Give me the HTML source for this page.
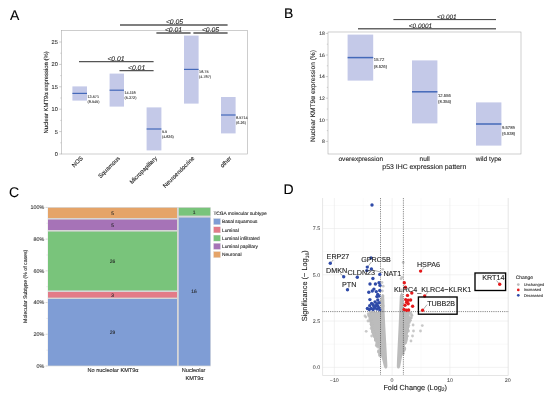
<!DOCTYPE html>
<html lang="en"><head><meta charset="utf-8"><title>Figure</title>
<style>html,body{margin:0;padding:0;background:#fff;overflow:hidden;}svg{display:block;}text{font-family:"Liberation Sans",Arial,Helvetica,sans-serif;text-rendering:geometricPrecision;}</style>
</head><body>
<svg width="550" height="396" viewBox="0 0 550 396">
<rect width="550" height="396" fill="#ffffff"/>
<text x="9.9" y="19.6" font-size="14" text-anchor="start" fill="#000" stroke="#000" stroke-width="0.1" >A</text>
<text x="284" y="18.2" font-size="14" text-anchor="start" fill="#000" stroke="#000" stroke-width="0.1" >B</text>
<text x="9" y="197.2" font-size="14" text-anchor="start" fill="#000" stroke="#000" stroke-width="0.1" >C</text>
<text x="283.6" y="194" font-size="14" text-anchor="start" fill="#000" stroke="#000" stroke-width="0.1" >D</text>
<rect x="61.4" y="30.4" width="186.2" height="123.6" fill="#fff" stroke="#adadad" stroke-width="0.6"/>
<line x1="59.199999999999996" y1="154.0" x2="61.4" y2="154.0" stroke="#9a9a9a" stroke-width="0.5"/>
<text x="57.8" y="156.0" font-size="5.6" text-anchor="end" fill="#333" stroke="#333" stroke-width="0.1" >0</text>
<line x1="59.199999999999996" y1="131.6" x2="61.4" y2="131.6" stroke="#9a9a9a" stroke-width="0.5"/>
<text x="57.8" y="133.6" font-size="5.6" text-anchor="end" fill="#333" stroke="#333" stroke-width="0.1" >5</text>
<line x1="59.199999999999996" y1="109.19999999999999" x2="61.4" y2="109.19999999999999" stroke="#9a9a9a" stroke-width="0.5"/>
<text x="57.8" y="111.19999999999999" font-size="5.6" text-anchor="end" fill="#333" stroke="#333" stroke-width="0.1" >10</text>
<line x1="59.199999999999996" y1="86.8" x2="61.4" y2="86.8" stroke="#9a9a9a" stroke-width="0.5"/>
<text x="57.8" y="88.8" font-size="5.6" text-anchor="end" fill="#333" stroke="#333" stroke-width="0.1" >15</text>
<line x1="59.199999999999996" y1="64.39999999999999" x2="61.4" y2="64.39999999999999" stroke="#9a9a9a" stroke-width="0.5"/>
<text x="57.8" y="66.39999999999999" font-size="5.6" text-anchor="end" fill="#333" stroke="#333" stroke-width="0.1" >20</text>
<line x1="59.199999999999996" y1="41.999999999999986" x2="61.4" y2="41.999999999999986" stroke="#9a9a9a" stroke-width="0.5"/>
<text x="57.8" y="43.999999999999986" font-size="5.6" text-anchor="end" fill="#333" stroke="#333" stroke-width="0.1" >25</text>
<line x1="60.199999999999996" y1="142.8" x2="61.4" y2="142.8" stroke="#9a9a9a" stroke-width="0.4"/>
<line x1="60.199999999999996" y1="120.4" x2="61.4" y2="120.4" stroke="#9a9a9a" stroke-width="0.4"/>
<line x1="60.199999999999996" y1="98.0" x2="61.4" y2="98.0" stroke="#9a9a9a" stroke-width="0.4"/>
<line x1="60.199999999999996" y1="75.6" x2="61.4" y2="75.6" stroke="#9a9a9a" stroke-width="0.4"/>
<line x1="60.199999999999996" y1="53.19999999999999" x2="61.4" y2="53.19999999999999" stroke="#9a9a9a" stroke-width="0.4"/>
<text transform="translate(48,92.4) rotate(-90)" font-size="5.9" text-anchor="middle" fill="#222" stroke="#222" stroke-width="0.1">Nuclear KMT9α expression (%)</text>
<rect x="72.4" y="86.4" width="14.599999999999994" height="14.199999999999989" fill="#c4c9e8"/>
<line x1="72.4" y1="93.4" x2="87" y2="93.4" stroke="#4469b9" stroke-width="1.2"/>
<text x="87.5" y="97.75" font-size="3.75" text-anchor="start" fill="#333" stroke="#333" stroke-width="0.08" >13.571</text>
<text x="87.5" y="102.85" font-size="3.75" text-anchor="start" fill="#333" stroke="#333" stroke-width="0.08" >(8.545)</text>
<text transform="translate(83.3,158.6) rotate(-45)" font-size="5.9" text-anchor="end" fill="#222" stroke="#222" stroke-width="0.1">NOS</text>
<rect x="109.6" y="73.6" width="14.400000000000006" height="33.0" fill="#c4c9e8"/>
<line x1="109.6" y1="90.2" x2="124" y2="90.2" stroke="#4469b9" stroke-width="1.2"/>
<text x="124.5" y="93.75" font-size="3.75" text-anchor="start" fill="#333" stroke="#333" stroke-width="0.08" >14.118</text>
<text x="124.5" y="98.85" font-size="3.75" text-anchor="start" fill="#333" stroke="#333" stroke-width="0.08" >(5.372)</text>
<text transform="translate(120.39999999999999,158.6) rotate(-45)" font-size="5.9" text-anchor="end" fill="#222" stroke="#222" stroke-width="0.1">Squamous</text>
<rect x="146.6" y="107.4" width="14.800000000000011" height="43.0" fill="#c4c9e8"/>
<line x1="146.6" y1="129" x2="161.4" y2="129" stroke="#4469b9" stroke-width="1.2"/>
<text x="161.9" y="132.75" font-size="3.75" text-anchor="start" fill="#333" stroke="#333" stroke-width="0.08" >5.5</text>
<text x="161.9" y="137.85" font-size="3.75" text-anchor="start" fill="#333" stroke="#333" stroke-width="0.08" >(4.836)</text>
<text transform="translate(157.6,158.6) rotate(-45)" font-size="5.9" text-anchor="end" fill="#222" stroke="#222" stroke-width="0.1">Micropapillary</text>
<rect x="184" y="35.6" width="14.599999999999994" height="68.0" fill="#c4c9e8"/>
<line x1="184" y1="69.4" x2="198.6" y2="69.4" stroke="#4469b9" stroke-width="1.2"/>
<text x="199.1" y="73.35" font-size="3.75" text-anchor="start" fill="#333" stroke="#333" stroke-width="0.08" >18.75</text>
<text x="199.1" y="78.44999999999999" font-size="3.75" text-anchor="start" fill="#333" stroke="#333" stroke-width="0.08" >(4.787)</text>
<text transform="translate(194.9,158.6) rotate(-45)" font-size="5.9" text-anchor="end" fill="#222" stroke="#222" stroke-width="0.1">Neuroendocrine</text>
<rect x="221" y="97" width="14.599999999999994" height="36.400000000000006" fill="#c4c9e8"/>
<line x1="221" y1="115" x2="235.6" y2="115" stroke="#4469b9" stroke-width="1.2"/>
<text x="236.1" y="118.94999999999999" font-size="3.75" text-anchor="start" fill="#333" stroke="#333" stroke-width="0.08" >8.5714</text>
<text x="236.1" y="124.04999999999998" font-size="3.75" text-anchor="start" fill="#333" stroke="#333" stroke-width="0.08" >(6.26)</text>
<text transform="translate(231.9,158.6) rotate(-45)" font-size="5.9" text-anchor="end" fill="#222" stroke="#222" stroke-width="0.1">other</text>
<line x1="120" y1="25" x2="227.6" y2="25" stroke="#555" stroke-width="1.4"/>
<text x="174.5" y="23.6" font-size="6.8" text-anchor="middle" font-style="italic" fill="#222" stroke="#222" stroke-width="0.1">&lt;0.05</text>
<line x1="156.4" y1="33" x2="190.6" y2="33" stroke="#555" stroke-width="1.4"/>
<text x="173.5" y="32.1" font-size="6.8" text-anchor="middle" font-style="italic" fill="#222" stroke="#222" stroke-width="0.1">&lt;0.01</text>
<line x1="193.4" y1="33" x2="227.6" y2="33" stroke="#555" stroke-width="1.4"/>
<text x="210.5" y="32.1" font-size="6.8" text-anchor="middle" font-style="italic" fill="#222" stroke="#222" stroke-width="0.1">&lt;0.05</text>
<line x1="79" y1="61.6" x2="153.6" y2="61.6" stroke="#555" stroke-width="1.4"/>
<text x="116" y="60.7" font-size="6.8" text-anchor="middle" font-style="italic" fill="#222" stroke="#222" stroke-width="0.1">&lt;0.01</text>
<line x1="119.5" y1="70.6" x2="153.6" y2="70.6" stroke="#555" stroke-width="1.4"/>
<text x="136.6" y="69.69999999999999" font-size="6.8" text-anchor="middle" font-style="italic" fill="#222" stroke="#222" stroke-width="0.1">&lt;0.01</text>
<rect x="328" y="32" width="193" height="122" fill="#fff" stroke="#adadad" stroke-width="0.6"/>
<line x1="325.8" y1="141.4" x2="328" y2="141.4" stroke="#9a9a9a" stroke-width="0.5"/>
<text x="324.8" y="143.20000000000002" font-size="5.0" text-anchor="end" fill="#333" stroke="#333" stroke-width="0.1" >8</text>
<line x1="325.8" y1="119.80000000000001" x2="328" y2="119.80000000000001" stroke="#9a9a9a" stroke-width="0.5"/>
<text x="324.8" y="121.60000000000001" font-size="5.0" text-anchor="end" fill="#333" stroke="#333" stroke-width="0.1" >10</text>
<line x1="325.8" y1="98.2" x2="328" y2="98.2" stroke="#9a9a9a" stroke-width="0.5"/>
<text x="324.8" y="100.0" font-size="5.0" text-anchor="end" fill="#333" stroke="#333" stroke-width="0.1" >12</text>
<line x1="325.8" y1="76.6" x2="328" y2="76.6" stroke="#9a9a9a" stroke-width="0.5"/>
<text x="324.8" y="78.39999999999999" font-size="5.0" text-anchor="end" fill="#333" stroke="#333" stroke-width="0.1" >14</text>
<line x1="325.8" y1="55.0" x2="328" y2="55.0" stroke="#9a9a9a" stroke-width="0.5"/>
<text x="324.8" y="56.8" font-size="5.0" text-anchor="end" fill="#333" stroke="#333" stroke-width="0.1" >16</text>
<line x1="325.8" y1="33.400000000000006" x2="328" y2="33.400000000000006" stroke="#9a9a9a" stroke-width="0.5"/>
<text x="324.8" y="35.2" font-size="5.0" text-anchor="end" fill="#333" stroke="#333" stroke-width="0.1" >18</text>
<line x1="326.8" y1="130.6" x2="328" y2="130.6" stroke="#9a9a9a" stroke-width="0.4"/>
<line x1="326.8" y1="109.0" x2="328" y2="109.0" stroke="#9a9a9a" stroke-width="0.4"/>
<line x1="326.8" y1="87.4" x2="328" y2="87.4" stroke="#9a9a9a" stroke-width="0.4"/>
<line x1="326.8" y1="65.8" x2="328" y2="65.8" stroke="#9a9a9a" stroke-width="0.4"/>
<line x1="326.8" y1="44.2" x2="328" y2="44.2" stroke="#9a9a9a" stroke-width="0.4"/>
<text transform="translate(314.8,96) rotate(-90)" font-size="6.6" text-anchor="middle" fill="#222" stroke="#222" stroke-width="0.1">Nuclear KMT9α expression (%)</text>
<rect x="347.6" y="34.6" width="25.599999999999966" height="45.99999999999999" fill="#c4c9e8"/>
<line x1="347.6" y1="57.6" x2="373.2" y2="57.6" stroke="#4469b9" stroke-width="1.5"/>
<text x="373.8" y="61.1" font-size="4.2" text-anchor="start" fill="#333" stroke="#333" stroke-width="0.08" >15.72</text>
<text x="373.8" y="67.5" font-size="4.2" text-anchor="start" fill="#333" stroke="#333" stroke-width="0.08" >(8.526)</text>
<text x="360.8" y="161.3" font-size="6.6" text-anchor="middle" fill="#222" stroke="#222" stroke-width="0.1" >overexpression</text>
<rect x="412" y="60.4" width="25.399999999999977" height="63.00000000000001" fill="#c4c9e8"/>
<line x1="412" y1="91.8" x2="437.4" y2="91.8" stroke="#4469b9" stroke-width="1.5"/>
<text x="438.0" y="96.5" font-size="4.2" text-anchor="start" fill="#333" stroke="#333" stroke-width="0.08" >12.556</text>
<text x="438.0" y="102.9" font-size="4.2" text-anchor="start" fill="#333" stroke="#333" stroke-width="0.08" >(8.354)</text>
<text x="424.7" y="161.3" font-size="6.6" text-anchor="middle" fill="#222" stroke="#222" stroke-width="0.1" >null</text>
<rect x="476" y="102.4" width="25.399999999999977" height="43.19999999999999" fill="#c4c9e8"/>
<line x1="476" y1="124" x2="501.4" y2="124" stroke="#4469b9" stroke-width="1.5"/>
<text x="502.0" y="128.5" font-size="4.2" text-anchor="start" fill="#333" stroke="#333" stroke-width="0.08" >9.5789</text>
<text x="502.0" y="134.8" font-size="4.2" text-anchor="start" fill="#333" stroke="#333" stroke-width="0.08" >(6.538)</text>
<text x="488.7" y="161.3" font-size="6.6" text-anchor="middle" fill="#222" stroke="#222" stroke-width="0.1" >wild type</text>
<text x="424.3" y="169.2" font-size="6.9" text-anchor="middle" fill="#222" stroke="#222" stroke-width="0.1" >p53 IHC expression pattern</text>
<line x1="393.4" y1="19.6" x2="496" y2="19.6" stroke="#222" stroke-width="0.9"/>
<text x="446.8" y="19.1" font-size="6.4" text-anchor="middle" font-style="italic" fill="#222" stroke="#222" stroke-width="0.1">&lt;0.001</text>
<line x1="358" y1="28.8" x2="496" y2="28.8" stroke="#666" stroke-width="1.4"/>
<text x="420.5" y="28.2" font-size="6.4" text-anchor="middle" font-style="italic" fill="#222" stroke="#222" stroke-width="0.1">&lt;0.0001</text>
<rect x="47.7" y="207.1" width="163.0" height="159.20000000000002" fill="#d6d6d6"/>
<rect x="48" y="299" width="129" height="66.60000000000002" fill="#7f9dd5"/>
<text x="112.5" y="333.75" font-size="4.9" text-anchor="middle" fill="#222" stroke="#222" stroke-width="0.08" >29</text>
<rect x="48" y="292" width="129" height="5.600000000000023" fill="#e37b88"/>
<text x="112.5" y="296.75" font-size="4.9" text-anchor="middle" fill="#222" stroke="#222" stroke-width="0.08" >3</text>
<rect x="48" y="231.6" width="129" height="58.79999999999998" fill="#79c47b"/>
<text x="112.5" y="263.0" font-size="4.9" text-anchor="middle" fill="#222" stroke="#222" stroke-width="0.08" >26</text>
<rect x="48" y="219.6" width="129" height="10.400000000000006" fill="#a673b7"/>
<text x="112.5" y="226.75" font-size="4.9" text-anchor="middle" fill="#222" stroke="#222" stroke-width="0.08" >5</text>
<rect x="48" y="207.8" width="129" height="10.199999999999989" fill="#e5a469"/>
<text x="112.5" y="214.75" font-size="4.9" text-anchor="middle" fill="#222" stroke="#222" stroke-width="0.08" >5</text>
<rect x="178.8" y="217.6" width="31.5" height="148.00000000000003" fill="#7f9dd5"/>
<text x="194" y="293.25" font-size="4.9" text-anchor="middle" fill="#222" stroke="#222" stroke-width="0.08" >16</text>
<rect x="178.8" y="207.8" width="31.5" height="7.799999999999983" fill="#79c47b"/>
<text x="194" y="214.15" font-size="4.9" text-anchor="middle" fill="#222" stroke="#222" stroke-width="0.08" >1</text>
<line x1="45.6" y1="366.0" x2="47.6" y2="366.0" stroke="#aaa" stroke-width="0.5"/>
<text x="44.4" y="367.9" font-size="5.4" text-anchor="end" fill="#333" stroke="#333" stroke-width="0.1" >0%</text>
<line x1="45.6" y1="334.28" x2="47.6" y2="334.28" stroke="#aaa" stroke-width="0.5"/>
<text x="44.4" y="336.17999999999995" font-size="5.4" text-anchor="end" fill="#333" stroke="#333" stroke-width="0.1" >20%</text>
<line x1="45.6" y1="302.56" x2="47.6" y2="302.56" stroke="#aaa" stroke-width="0.5"/>
<text x="44.4" y="304.46" font-size="5.4" text-anchor="end" fill="#333" stroke="#333" stroke-width="0.1" >40%</text>
<line x1="45.6" y1="270.84" x2="47.6" y2="270.84" stroke="#aaa" stroke-width="0.5"/>
<text x="44.4" y="272.73999999999995" font-size="5.4" text-anchor="end" fill="#333" stroke="#333" stroke-width="0.1" >60%</text>
<line x1="45.6" y1="239.12" x2="47.6" y2="239.12" stroke="#aaa" stroke-width="0.5"/>
<text x="44.4" y="241.02" font-size="5.4" text-anchor="end" fill="#333" stroke="#333" stroke-width="0.1" >80%</text>
<line x1="45.6" y1="207.4" x2="47.6" y2="207.4" stroke="#aaa" stroke-width="0.5"/>
<text x="44.4" y="209.3" font-size="5.4" text-anchor="end" fill="#333" stroke="#333" stroke-width="0.1" >100%</text>
<line x1="46.5" y1="350.14" x2="47.6" y2="350.14" stroke="#bbb" stroke-width="0.4"/>
<line x1="46.5" y1="318.42" x2="47.6" y2="318.42" stroke="#bbb" stroke-width="0.4"/>
<line x1="46.5" y1="286.7" x2="47.6" y2="286.7" stroke="#bbb" stroke-width="0.4"/>
<line x1="46.5" y1="254.98" x2="47.6" y2="254.98" stroke="#bbb" stroke-width="0.4"/>
<line x1="46.5" y1="223.26" x2="47.6" y2="223.26" stroke="#bbb" stroke-width="0.4"/>
<text transform="translate(27,286.3) rotate(-90)" font-size="5.2" text-anchor="middle" fill="#222" stroke="#222" stroke-width="0.1">Molecular Subtype (% of cases)</text>
<text x="113" y="372.4" font-size="5.6" text-anchor="middle" fill="#222" stroke="#222" stroke-width="0.1" >No nucleolar KMT9α</text>
<text x="193.6" y="372.4" font-size="5.6" text-anchor="middle" fill="#222" stroke="#222" stroke-width="0.1" >Nucleolar</text>
<text x="194.5" y="379.6" font-size="5.6" text-anchor="middle" fill="#222" stroke="#222" stroke-width="0.1" >KMT9α</text>
<text x="213.4" y="214.7" font-size="4.8" text-anchor="start" fill="#222" stroke="#222" stroke-width="0.1" >TCGA molecular subtype</text>
<rect x="213.6" y="218.6" width="6.8" height="6" fill="#7f9dd5" stroke="#d8d8d8" stroke-width="0.3"/>
<text x="222" y="223.29999999999998" font-size="4.8" text-anchor="start" fill="#222" stroke="#222" stroke-width="0.1" >Basal squamous</text>
<rect x="213.6" y="226.85" width="6.8" height="6" fill="#e37b88" stroke="#d8d8d8" stroke-width="0.3"/>
<text x="222" y="231.54999999999998" font-size="4.8" text-anchor="start" fill="#222" stroke="#222" stroke-width="0.1" >Luminal</text>
<rect x="213.6" y="235.1" width="6.8" height="6" fill="#79c47b" stroke="#d8d8d8" stroke-width="0.3"/>
<text x="222" y="239.79999999999998" font-size="4.8" text-anchor="start" fill="#222" stroke="#222" stroke-width="0.1" >Luminal infiltrated</text>
<rect x="213.6" y="243.35" width="6.8" height="6" fill="#a673b7" stroke="#d8d8d8" stroke-width="0.3"/>
<text x="222" y="248.04999999999998" font-size="4.8" text-anchor="start" fill="#222" stroke="#222" stroke-width="0.1" >Luminal papillary</text>
<rect x="213.6" y="251.6" width="6.8" height="6" fill="#e5a469" stroke="#d8d8d8" stroke-width="0.3"/>
<text x="222" y="256.3" font-size="4.8" text-anchor="start" fill="#222" stroke="#222" stroke-width="0.1" >Neuronal</text>
<rect x="322.6" y="198" width="185.59999999999997" height="177.5" fill="#fff"/>
<line x1="363.20000000000005" y1="198" x2="363.20000000000005" y2="375.5" stroke="#f2f2f2" stroke-width="0.4"/>
<line x1="421.0" y1="198" x2="421.0" y2="375.5" stroke="#f2f2f2" stroke-width="0.4"/>
<line x1="478.8" y1="198" x2="478.8" y2="375.5" stroke="#f2f2f2" stroke-width="0.4"/>
<line x1="322.6" y1="344.175" x2="508.2" y2="344.175" stroke="#f2f2f2" stroke-width="0.4"/>
<line x1="322.6" y1="297.925" x2="508.2" y2="297.925" stroke="#f2f2f2" stroke-width="0.4"/>
<line x1="322.6" y1="251.675" x2="508.2" y2="251.675" stroke="#f2f2f2" stroke-width="0.4"/>
<line x1="322.6" y1="205.425" x2="508.2" y2="205.425" stroke="#f2f2f2" stroke-width="0.4"/>
<line x1="334.3" y1="198" x2="334.3" y2="375.5" stroke="#e8e8e8" stroke-width="0.6"/>
<text x="334.3" y="381.9" font-size="5.3" text-anchor="middle" fill="#4d4d4d" stroke="#4d4d4d" stroke-width="0.06" >−10</text>
<line x1="392.1" y1="198" x2="392.1" y2="375.5" stroke="#e8e8e8" stroke-width="0.6"/>
<text x="392.1" y="381.9" font-size="5.3" text-anchor="middle" fill="#4d4d4d" stroke="#4d4d4d" stroke-width="0.06" >0</text>
<line x1="449.90000000000003" y1="198" x2="449.90000000000003" y2="375.5" stroke="#e8e8e8" stroke-width="0.6"/>
<text x="449.90000000000003" y="381.9" font-size="5.3" text-anchor="middle" fill="#4d4d4d" stroke="#4d4d4d" stroke-width="0.06" >10</text>
<text x="507.70000000000005" y="381.9" font-size="5.3" text-anchor="middle" fill="#4d4d4d" stroke="#4d4d4d" stroke-width="0.06" >20</text>
<line x1="322.6" y1="367.3" x2="508.2" y2="367.3" stroke="#e8e8e8" stroke-width="0.6"/>
<text x="320.2" y="369.2" font-size="5.3" text-anchor="end" fill="#4d4d4d" stroke="#4d4d4d" stroke-width="0.06" >0.0</text>
<line x1="322.6" y1="321.05" x2="508.2" y2="321.05" stroke="#e8e8e8" stroke-width="0.6"/>
<text x="320.2" y="322.95" font-size="5.3" text-anchor="end" fill="#4d4d4d" stroke="#4d4d4d" stroke-width="0.06" >2.5</text>
<line x1="322.6" y1="274.8" x2="508.2" y2="274.8" stroke="#e8e8e8" stroke-width="0.6"/>
<text x="320.2" y="276.7" font-size="5.3" text-anchor="end" fill="#4d4d4d" stroke="#4d4d4d" stroke-width="0.06" >5.0</text>
<line x1="322.6" y1="228.55" x2="508.2" y2="228.55" stroke="#e8e8e8" stroke-width="0.6"/>
<text x="320.2" y="230.45000000000002" font-size="5.3" text-anchor="end" fill="#4d4d4d" stroke="#4d4d4d" stroke-width="0.06" >7.5</text>
<path d="M322.6,198 L322.6,375.5 L508.2,375.5 L508.2,198" fill="none" stroke="#dedede" stroke-width="0.8"/>
<path d="M385.6,368.6 C384.8,368.6 384.2,367.5 383.8,366 C382,358 379.8,352 378,347 C375.5,341 373,337 371.6,333 C370.4,328 369.6,320 369.5,311.7 L380.6,311.7 L380.8,298 L382,294 L384,295 L384.4,300 L384.6,311.7 C385.4,330 386.8,350 387.4,366 C387.4,367.8 386.6,368.6 385.6,368.6 Z" fill="#bcbcbc"/>
<path d="M398.5,368.6 C399.4,368.6 400,367.5 400.3,366 C401.6,358 403.4,350 405.2,344 C407,338 408.6,332 409.2,326 C409.6,320 409.6,316 409.6,311.7 L403.4,311.7 L403.2,297 L401.6,292 L399.8,296 L399.2,311.7 C398.6,330 397.4,350 396.8,366 C396.8,367.8 397.6,368.6 398.5,368.6 Z" fill="#bcbcbc"/>
<circle cx="372.4" cy="331.9" r="1.4" fill="#bcbcbc" fill-opacity="0.8"/>
<circle cx="373.6" cy="332.5" r="1.4" fill="#bcbcbc" fill-opacity="0.8"/>
<circle cx="374.3" cy="334.3" r="1.4" fill="#bcbcbc" fill-opacity="0.8"/>
<circle cx="374.5" cy="334.5" r="1.4" fill="#bcbcbc" fill-opacity="0.8"/>
<circle cx="376.0" cy="339.7" r="1.4" fill="#bcbcbc" fill-opacity="0.8"/>
<circle cx="372.2" cy="325.3" r="1.4" fill="#bcbcbc" fill-opacity="0.8"/>
<circle cx="369.8" cy="316.0" r="1.4" fill="#bcbcbc" fill-opacity="0.8"/>
<circle cx="368.2" cy="313.8" r="1.4" fill="#bcbcbc" fill-opacity="0.8"/>
<circle cx="379.8" cy="355.2" r="1.4" fill="#bcbcbc" fill-opacity="0.8"/>
<circle cx="375.7" cy="339.1" r="1.4" fill="#bcbcbc" fill-opacity="0.8"/>
<circle cx="369.7" cy="318.9" r="1.4" fill="#bcbcbc" fill-opacity="0.8"/>
<circle cx="370.0" cy="314.6" r="1.4" fill="#bcbcbc" fill-opacity="0.8"/>
<circle cx="371.4" cy="320.4" r="1.4" fill="#bcbcbc" fill-opacity="0.8"/>
<circle cx="374.0" cy="332.4" r="1.4" fill="#bcbcbc" fill-opacity="0.8"/>
<circle cx="373.4" cy="331.4" r="1.4" fill="#bcbcbc" fill-opacity="0.8"/>
<circle cx="375.5" cy="340.2" r="1.4" fill="#bcbcbc" fill-opacity="0.8"/>
<circle cx="374.2" cy="334.0" r="1.4" fill="#bcbcbc" fill-opacity="0.8"/>
<circle cx="371.4" cy="324.2" r="1.4" fill="#bcbcbc" fill-opacity="0.8"/>
<circle cx="379.9" cy="355.9" r="1.4" fill="#bcbcbc" fill-opacity="0.8"/>
<circle cx="376.9" cy="343.1" r="1.4" fill="#bcbcbc" fill-opacity="0.8"/>
<circle cx="372.6" cy="325.9" r="1.4" fill="#bcbcbc" fill-opacity="0.8"/>
<circle cx="369.3" cy="315.1" r="1.4" fill="#bcbcbc" fill-opacity="0.8"/>
<circle cx="376.8" cy="345.7" r="1.4" fill="#bcbcbc" fill-opacity="0.8"/>
<circle cx="372.4" cy="329.0" r="1.4" fill="#bcbcbc" fill-opacity="0.8"/>
<circle cx="379.9" cy="354.2" r="1.4" fill="#bcbcbc" fill-opacity="0.8"/>
<circle cx="371.6" cy="321.2" r="1.4" fill="#bcbcbc" fill-opacity="0.8"/>
<circle cx="378.3" cy="352.1" r="1.4" fill="#bcbcbc" fill-opacity="0.8"/>
<circle cx="373.1" cy="329.5" r="1.4" fill="#bcbcbc" fill-opacity="0.8"/>
<circle cx="368.8" cy="315.2" r="1.4" fill="#bcbcbc" fill-opacity="0.8"/>
<circle cx="371.0" cy="323.9" r="1.4" fill="#bcbcbc" fill-opacity="0.8"/>
<circle cx="368.9" cy="315.8" r="1.4" fill="#bcbcbc" fill-opacity="0.8"/>
<circle cx="376.3" cy="345.4" r="1.4" fill="#bcbcbc" fill-opacity="0.8"/>
<circle cx="370.7" cy="317.2" r="1.4" fill="#bcbcbc" fill-opacity="0.8"/>
<circle cx="369.6" cy="314.6" r="1.4" fill="#bcbcbc" fill-opacity="0.8"/>
<circle cx="377.7" cy="347.1" r="1.4" fill="#bcbcbc" fill-opacity="0.8"/>
<circle cx="373.1" cy="331.7" r="1.4" fill="#bcbcbc" fill-opacity="0.8"/>
<circle cx="371.4" cy="320.4" r="1.4" fill="#bcbcbc" fill-opacity="0.8"/>
<circle cx="375.9" cy="340.3" r="1.4" fill="#bcbcbc" fill-opacity="0.8"/>
<circle cx="370.0" cy="317.1" r="1.4" fill="#bcbcbc" fill-opacity="0.8"/>
<circle cx="371.9" cy="323.9" r="1.4" fill="#bcbcbc" fill-opacity="0.8"/>
<circle cx="380.0" cy="354.7" r="1.4" fill="#bcbcbc" fill-opacity="0.8"/>
<circle cx="378.7" cy="350.9" r="1.4" fill="#bcbcbc" fill-opacity="0.8"/>
<circle cx="370.0" cy="321.3" r="1.4" fill="#bcbcbc" fill-opacity="0.8"/>
<circle cx="375.4" cy="340.2" r="1.4" fill="#bcbcbc" fill-opacity="0.8"/>
<circle cx="369.7" cy="316.4" r="1.4" fill="#bcbcbc" fill-opacity="0.8"/>
<circle cx="372.1" cy="323.4" r="1.4" fill="#bcbcbc" fill-opacity="0.8"/>
<circle cx="377.5" cy="346.0" r="1.4" fill="#bcbcbc" fill-opacity="0.8"/>
<circle cx="369.4" cy="315.2" r="1.4" fill="#bcbcbc" fill-opacity="0.8"/>
<circle cx="369.7" cy="316.0" r="1.4" fill="#bcbcbc" fill-opacity="0.8"/>
<circle cx="375.5" cy="338.5" r="1.4" fill="#bcbcbc" fill-opacity="0.8"/>
<circle cx="371.1" cy="328.4" r="1.4" fill="#bcbcbc" fill-opacity="0.8"/>
<circle cx="373.9" cy="333.3" r="1.4" fill="#bcbcbc" fill-opacity="0.8"/>
<circle cx="375.1" cy="337.3" r="1.4" fill="#bcbcbc" fill-opacity="0.8"/>
<circle cx="370.6" cy="318.8" r="1.4" fill="#bcbcbc" fill-opacity="0.8"/>
<circle cx="379.2" cy="352.0" r="1.4" fill="#bcbcbc" fill-opacity="0.8"/>
<circle cx="370.7" cy="320.4" r="1.4" fill="#bcbcbc" fill-opacity="0.8"/>
<circle cx="376.9" cy="344.5" r="1.4" fill="#bcbcbc" fill-opacity="0.8"/>
<circle cx="379.7" cy="353.8" r="1.4" fill="#bcbcbc" fill-opacity="0.8"/>
<circle cx="378.6" cy="350.8" r="1.4" fill="#bcbcbc" fill-opacity="0.8"/>
<circle cx="369.9" cy="316.6" r="1.4" fill="#bcbcbc" fill-opacity="0.8"/>
<circle cx="369.1" cy="313.7" r="1.4" fill="#bcbcbc" fill-opacity="0.8"/>
<circle cx="376.8" cy="343.0" r="1.4" fill="#bcbcbc" fill-opacity="0.8"/>
<circle cx="371.5" cy="323.3" r="1.4" fill="#bcbcbc" fill-opacity="0.8"/>
<circle cx="371.3" cy="324.9" r="1.4" fill="#bcbcbc" fill-opacity="0.8"/>
<circle cx="371.2" cy="319.7" r="1.4" fill="#bcbcbc" fill-opacity="0.8"/>
<circle cx="371.4" cy="322.0" r="1.4" fill="#bcbcbc" fill-opacity="0.8"/>
<circle cx="374.7" cy="336.6" r="1.4" fill="#bcbcbc" fill-opacity="0.8"/>
<circle cx="371.2" cy="324.3" r="1.4" fill="#bcbcbc" fill-opacity="0.8"/>
<circle cx="379.4" cy="352.4" r="1.4" fill="#bcbcbc" fill-opacity="0.8"/>
<circle cx="372.1" cy="323.8" r="1.4" fill="#bcbcbc" fill-opacity="0.8"/>
<circle cx="407.5" cy="330.7" r="1.4" fill="#bcbcbc" fill-opacity="0.8"/>
<circle cx="407.7" cy="327.5" r="1.4" fill="#bcbcbc" fill-opacity="0.8"/>
<circle cx="406.5" cy="336.0" r="1.4" fill="#bcbcbc" fill-opacity="0.8"/>
<circle cx="403.9" cy="349.4" r="1.4" fill="#bcbcbc" fill-opacity="0.8"/>
<circle cx="403.2" cy="353.2" r="1.4" fill="#bcbcbc" fill-opacity="0.8"/>
<circle cx="406.9" cy="336.5" r="1.4" fill="#bcbcbc" fill-opacity="0.8"/>
<circle cx="409.2" cy="317.9" r="1.4" fill="#bcbcbc" fill-opacity="0.8"/>
<circle cx="403.5" cy="350.2" r="1.4" fill="#bcbcbc" fill-opacity="0.8"/>
<circle cx="405.2" cy="341.4" r="1.4" fill="#bcbcbc" fill-opacity="0.8"/>
<circle cx="405.6" cy="338.7" r="1.4" fill="#bcbcbc" fill-opacity="0.8"/>
<circle cx="406.8" cy="332.3" r="1.4" fill="#bcbcbc" fill-opacity="0.8"/>
<circle cx="403.0" cy="354.0" r="1.4" fill="#bcbcbc" fill-opacity="0.8"/>
<circle cx="411.5" cy="315.2" r="1.4" fill="#bcbcbc" fill-opacity="0.8"/>
<circle cx="403.7" cy="349.8" r="1.4" fill="#bcbcbc" fill-opacity="0.8"/>
<circle cx="405.1" cy="343.0" r="1.4" fill="#bcbcbc" fill-opacity="0.8"/>
<circle cx="404.1" cy="350.4" r="1.4" fill="#bcbcbc" fill-opacity="0.8"/>
<circle cx="408.4" cy="326.8" r="1.4" fill="#bcbcbc" fill-opacity="0.8"/>
<circle cx="404.7" cy="348.6" r="1.4" fill="#bcbcbc" fill-opacity="0.8"/>
<circle cx="407.6" cy="329.5" r="1.4" fill="#bcbcbc" fill-opacity="0.8"/>
<circle cx="407.5" cy="336.1" r="1.4" fill="#bcbcbc" fill-opacity="0.8"/>
<circle cx="406.4" cy="338.2" r="1.4" fill="#bcbcbc" fill-opacity="0.8"/>
<circle cx="406.4" cy="337.6" r="1.4" fill="#bcbcbc" fill-opacity="0.8"/>
<circle cx="412.0" cy="315.4" r="1.4" fill="#bcbcbc" fill-opacity="0.8"/>
<circle cx="404.8" cy="349.0" r="1.4" fill="#bcbcbc" fill-opacity="0.8"/>
<circle cx="405.7" cy="342.6" r="1.4" fill="#bcbcbc" fill-opacity="0.8"/>
<circle cx="406.8" cy="336.4" r="1.4" fill="#bcbcbc" fill-opacity="0.8"/>
<circle cx="407.2" cy="330.5" r="1.4" fill="#bcbcbc" fill-opacity="0.8"/>
<circle cx="404.9" cy="343.5" r="1.4" fill="#bcbcbc" fill-opacity="0.8"/>
<circle cx="411.0" cy="313.3" r="1.4" fill="#bcbcbc" fill-opacity="0.8"/>
<circle cx="409.2" cy="321.7" r="1.4" fill="#bcbcbc" fill-opacity="0.8"/>
<circle cx="406.0" cy="341.3" r="1.4" fill="#bcbcbc" fill-opacity="0.8"/>
<circle cx="403.4" cy="350.7" r="1.4" fill="#bcbcbc" fill-opacity="0.8"/>
<circle cx="409.2" cy="322.7" r="1.4" fill="#bcbcbc" fill-opacity="0.8"/>
<circle cx="405.3" cy="340.5" r="1.4" fill="#bcbcbc" fill-opacity="0.8"/>
<circle cx="409.8" cy="320.5" r="1.4" fill="#bcbcbc" fill-opacity="0.8"/>
<circle cx="406.7" cy="339.7" r="1.4" fill="#bcbcbc" fill-opacity="0.8"/>
<circle cx="407.6" cy="330.6" r="1.4" fill="#bcbcbc" fill-opacity="0.8"/>
<circle cx="405.7" cy="340.0" r="1.4" fill="#bcbcbc" fill-opacity="0.8"/>
<circle cx="410.6" cy="320.3" r="1.4" fill="#bcbcbc" fill-opacity="0.8"/>
<circle cx="403.7" cy="350.4" r="1.4" fill="#bcbcbc" fill-opacity="0.8"/>
<circle cx="404.2" cy="349.0" r="1.4" fill="#bcbcbc" fill-opacity="0.8"/>
<circle cx="408.7" cy="325.3" r="1.4" fill="#bcbcbc" fill-opacity="0.8"/>
<circle cx="411.4" cy="317.7" r="1.4" fill="#bcbcbc" fill-opacity="0.8"/>
<circle cx="404.0" cy="347.6" r="1.4" fill="#bcbcbc" fill-opacity="0.8"/>
<circle cx="405.5" cy="341.9" r="1.4" fill="#bcbcbc" fill-opacity="0.8"/>
<circle cx="409.1" cy="319.1" r="1.4" fill="#bcbcbc" fill-opacity="0.8"/>
<circle cx="407.0" cy="330.9" r="1.4" fill="#bcbcbc" fill-opacity="0.8"/>
<circle cx="407.8" cy="329.4" r="1.4" fill="#bcbcbc" fill-opacity="0.8"/>
<circle cx="406.3" cy="338.3" r="1.4" fill="#bcbcbc" fill-opacity="0.8"/>
<circle cx="404.0" cy="347.2" r="1.4" fill="#bcbcbc" fill-opacity="0.8"/>
<circle cx="403.0" cy="353.2" r="1.4" fill="#bcbcbc" fill-opacity="0.8"/>
<circle cx="409.9" cy="313.3" r="1.4" fill="#bcbcbc" fill-opacity="0.8"/>
<circle cx="404.5" cy="348.7" r="1.4" fill="#bcbcbc" fill-opacity="0.8"/>
<circle cx="406.4" cy="336.0" r="1.4" fill="#bcbcbc" fill-opacity="0.8"/>
<circle cx="407.9" cy="325.0" r="1.4" fill="#bcbcbc" fill-opacity="0.8"/>
<circle cx="409.3" cy="317.7" r="1.4" fill="#bcbcbc" fill-opacity="0.8"/>
<circle cx="408.6" cy="331.1" r="1.4" fill="#bcbcbc" fill-opacity="0.8"/>
<circle cx="408.7" cy="322.0" r="1.4" fill="#bcbcbc" fill-opacity="0.8"/>
<circle cx="410.7" cy="317.9" r="1.4" fill="#bcbcbc" fill-opacity="0.8"/>
<circle cx="407.3" cy="330.8" r="1.4" fill="#bcbcbc" fill-opacity="0.8"/>
<circle cx="365.9" cy="317.1" r="1.4" fill="#bcbcbc" fill-opacity="0.8"/>
<circle cx="366.2" cy="331.3" r="1.4" fill="#bcbcbc" fill-opacity="0.8"/>
<circle cx="368.0" cy="321.0" r="1.4" fill="#bcbcbc" fill-opacity="0.8"/>
<circle cx="371.7" cy="336.0" r="1.4" fill="#bcbcbc" fill-opacity="0.8"/>
<circle cx="365.0" cy="316.0" r="1.4" fill="#bcbcbc" fill-opacity="0.8"/>
<circle cx="422.3" cy="325.6" r="1.4" fill="#bcbcbc" fill-opacity="0.8"/>
<circle cx="420.5" cy="331.0" r="1.4" fill="#bcbcbc" fill-opacity="0.8"/>
<circle cx="413.1" cy="325.0" r="1.4" fill="#bcbcbc" fill-opacity="0.8"/>
<circle cx="413.5" cy="331.0" r="1.4" fill="#bcbcbc" fill-opacity="0.8"/>
<circle cx="412.5" cy="336.0" r="1.4" fill="#bcbcbc" fill-opacity="0.8"/>
<circle cx="411.0" cy="341.0" r="1.4" fill="#bcbcbc" fill-opacity="0.8"/>
<circle cx="403.2" cy="262.4" r="1.4" fill="#bcbcbc" fill-opacity="0.8"/>
<circle cx="382.7" cy="269.3" r="1.4" fill="#bcbcbc" fill-opacity="0.8"/>
<circle cx="401.0" cy="278.8" r="1.4" fill="#bcbcbc" fill-opacity="0.8"/>
<circle cx="401.8" cy="277.4" r="1.4" fill="#bcbcbc" fill-opacity="0.8"/>
<circle cx="382.0" cy="282.5" r="1.4" fill="#bcbcbc" fill-opacity="0.8"/>
<circle cx="383.2" cy="286.2" r="1.4" fill="#bcbcbc" fill-opacity="0.8"/>
<circle cx="382.4" cy="291.0" r="1.4" fill="#bcbcbc" fill-opacity="0.8"/>
<circle cx="383.0" cy="296.0" r="1.4" fill="#bcbcbc" fill-opacity="0.8"/>
<circle cx="382.6" cy="301.0" r="1.4" fill="#bcbcbc" fill-opacity="0.8"/>
<circle cx="383.2" cy="306.0" r="1.4" fill="#bcbcbc" fill-opacity="0.8"/>
<circle cx="401.5" cy="290.0" r="1.4" fill="#bcbcbc" fill-opacity="0.8"/>
<circle cx="402.0" cy="295.0" r="1.4" fill="#bcbcbc" fill-opacity="0.8"/>
<circle cx="401.6" cy="300.0" r="1.4" fill="#bcbcbc" fill-opacity="0.8"/>
<circle cx="402.2" cy="305.0" r="1.4" fill="#bcbcbc" fill-opacity="0.8"/>
<circle cx="402.0" cy="309.0" r="1.4" fill="#bcbcbc" fill-opacity="0.8"/>
<line x1="380.5" y1="198" x2="380.5" y2="375.5" stroke="#222" stroke-width="0.75" stroke-dasharray="0.7 1.15"/>
<line x1="403.4" y1="198" x2="403.4" y2="375.5" stroke="#222" stroke-width="0.75" stroke-dasharray="0.7 1.15"/>
<line x1="322.6" y1="311.6" x2="508.2" y2="311.6" stroke="#222" stroke-width="0.75" stroke-dasharray="0.7 1.15"/>
<line x1="331" y1="262.4" x2="333.5" y2="259.8" stroke="#333" stroke-width="0.4"/>
<line x1="343" y1="276" x2="340" y2="273.4" stroke="#333" stroke-width="0.4"/>
<line x1="347.8" y1="288.8" x2="349" y2="287.3" stroke="#333" stroke-width="0.4"/>
<line x1="371.4" y1="262" x2="368" y2="266.4" stroke="#333" stroke-width="0.4"/>
<line x1="383" y1="272.6" x2="372.5" y2="270" stroke="#333" stroke-width="0.4"/>
<line x1="421.5" y1="269.7" x2="424.5" y2="267.1" stroke="#333" stroke-width="0.4"/>
<line x1="496.5" y1="280.5" x2="498.7" y2="283.2" stroke="#333" stroke-width="0.4"/>
<line x1="427.9" y1="292.2" x2="425.4" y2="295.2" stroke="#333" stroke-width="0.4"/>
<line x1="427.1" y1="304.6" x2="423.6" y2="309" stroke="#333" stroke-width="0.4"/>
<line x1="357.3" y1="276.4" x2="358" y2="275" stroke="#333" stroke-width="0.4"/>
<circle cx="372" cy="205" r="1.7" fill="#2f4aa8"/>
<circle cx="330.3" cy="263.2" r="1.7" fill="#2f4aa8"/>
<circle cx="343.7" cy="276.8" r="1.7" fill="#2f4aa8"/>
<circle cx="357.3" cy="277.2" r="1.7" fill="#2f4aa8"/>
<circle cx="347.5" cy="289.7" r="1.7" fill="#2f4aa8"/>
<circle cx="371" cy="257.9" r="1.7" fill="#2f4aa8"/>
<circle cx="367.3" cy="267.1" r="1.7" fill="#2f4aa8"/>
<circle cx="371.4" cy="269" r="1.7" fill="#2f4aa8"/>
<circle cx="366.8" cy="270.6" r="1.7" fill="#2f4aa8"/>
<circle cx="379.8" cy="274.4" r="1.7" fill="#2f4aa8"/>
<circle cx="372.9" cy="278.5" r="1.7" fill="#2f4aa8"/>
<circle cx="370" cy="284" r="1.7" fill="#2f4aa8"/>
<circle cx="375.4" cy="284" r="1.7" fill="#2f4aa8"/>
<circle cx="379" cy="282.8" r="1.7" fill="#2f4aa8"/>
<circle cx="380" cy="285.4" r="1.7" fill="#2f4aa8"/>
<circle cx="373.9" cy="289.1" r="1.7" fill="#2f4aa8"/>
<circle cx="372.3" cy="291" r="1.7" fill="#2f4aa8"/>
<circle cx="368.8" cy="292.2" r="1.7" fill="#2f4aa8"/>
<circle cx="376.3" cy="291.6" r="1.7" fill="#2f4aa8"/>
<circle cx="379.7" cy="290.5" r="1.7" fill="#2f4aa8"/>
<circle cx="377.7" cy="294.5" r="1.7" fill="#2f4aa8"/>
<circle cx="376.9" cy="296.6" r="1.7" fill="#2f4aa8"/>
<circle cx="378.9" cy="296" r="1.7" fill="#2f4aa8"/>
<circle cx="369.9" cy="299.6" r="1.7" fill="#2f4aa8"/>
<circle cx="377.8" cy="300" r="1.7" fill="#2f4aa8"/>
<circle cx="375" cy="301.9" r="1.7" fill="#2f4aa8"/>
<circle cx="371.6" cy="303.4" r="1.7" fill="#2f4aa8"/>
<circle cx="373.1" cy="304.7" r="1.7" fill="#2f4aa8"/>
<circle cx="376.9" cy="303.8" r="1.7" fill="#2f4aa8"/>
<circle cx="379.1" cy="302.8" r="1.7" fill="#2f4aa8"/>
<circle cx="369.7" cy="305.7" r="1.7" fill="#2f4aa8"/>
<circle cx="367.4" cy="308.5" r="1.7" fill="#2f4aa8"/>
<circle cx="369.3" cy="309.5" r="1.7" fill="#2f4aa8"/>
<circle cx="371.2" cy="308.5" r="1.7" fill="#2f4aa8"/>
<circle cx="373.1" cy="309.5" r="1.7" fill="#2f4aa8"/>
<circle cx="375" cy="307.9" r="1.7" fill="#2f4aa8"/>
<circle cx="376.9" cy="309.1" r="1.7" fill="#2f4aa8"/>
<circle cx="378.8" cy="307.6" r="1.7" fill="#2f4aa8"/>
<circle cx="379.7" cy="309.8" r="1.7" fill="#2f4aa8"/>
<circle cx="374" cy="306.6" r="1.7" fill="#2f4aa8"/>
<circle cx="375.9" cy="305.7" r="1.7" fill="#2f4aa8"/>
<circle cx="377.8" cy="306" r="1.7" fill="#2f4aa8"/>
<circle cx="420.6" cy="271.1" r="1.7" fill="#e41a1c"/>
<circle cx="404.3" cy="282.8" r="1.7" fill="#e41a1c"/>
<circle cx="405.4" cy="287.2" r="1.7" fill="#e41a1c"/>
<circle cx="411.8" cy="293" r="1.7" fill="#e41a1c"/>
<circle cx="407.5" cy="295.4" r="1.7" fill="#e41a1c"/>
<circle cx="424.7" cy="296" r="1.7" fill="#e41a1c"/>
<circle cx="405.7" cy="299.6" r="1.7" fill="#e41a1c"/>
<circle cx="408.2" cy="300.2" r="1.7" fill="#e41a1c"/>
<circle cx="410.6" cy="300" r="1.7" fill="#e41a1c"/>
<circle cx="406.6" cy="302.2" r="1.7" fill="#e41a1c"/>
<circle cx="408.2" cy="303.7" r="1.7" fill="#e41a1c"/>
<circle cx="412.6" cy="306.2" r="1.7" fill="#e41a1c"/>
<circle cx="405" cy="305.2" r="1.7" fill="#e41a1c"/>
<circle cx="404.1" cy="309.5" r="1.7" fill="#e41a1c"/>
<circle cx="406.5" cy="310.3" r="1.7" fill="#e41a1c"/>
<circle cx="408.6" cy="310" r="1.7" fill="#e41a1c"/>
<circle cx="422.6" cy="310.3" r="1.7" fill="#e41a1c"/>
<circle cx="499.7" cy="284.3" r="1.7" fill="#e41a1c"/>
<text x="326.6" y="259.3" font-size="7.2" text-anchor="start" fill="#222" stroke="#222" stroke-width="0.1" >ERP27</text>
<text x="361.2" y="262" font-size="7.2" text-anchor="start" fill="#222" stroke="#222" stroke-width="0.1" >GPRC5B</text>
<text x="326" y="273" font-size="7.2" text-anchor="start" fill="#222" stroke="#222" stroke-width="0.1" >DMKN</text>
<text x="347.5" y="275" font-size="7.2" text-anchor="start" fill="#222" stroke="#222" stroke-width="0.1" >CLDN23</text>
<text x="383.4" y="275.5" font-size="7.2" text-anchor="start" fill="#222" stroke="#222" stroke-width="0.1" >NAT1</text>
<text x="342" y="287.2" font-size="7.2" text-anchor="start" fill="#222" stroke="#222" stroke-width="0.1" >PTN</text>
<text x="416.9" y="266.8" font-size="7.2" text-anchor="start" fill="#222" stroke="#222" stroke-width="0.1" >HSPA6</text>
<text x="482.2" y="279.9" font-size="7.2" text-anchor="start" fill="#222" stroke="#222" stroke-width="0.1" >KRT14</text>
<text x="394" y="291.9" font-size="7.2" text-anchor="start" fill="#222" stroke="#222" stroke-width="0.1" >KLRC4_KLRC4−KLRK1</text>
<text x="427.2" y="306.2" font-size="7.2" text-anchor="start" fill="#222" stroke="#222" stroke-width="0.1" >TUBB2B</text>
<rect x="475" y="273" width="30.6" height="17.5" fill="none" stroke="#000" stroke-width="1.35"/>
<rect x="418.4" y="297" width="38.7" height="17.2" fill="none" stroke="#000" stroke-width="1.35"/>
<text x="415.2" y="390" font-size="7.3" text-anchor="middle" fill="#222" stroke="#222" stroke-width="0.1" >Fold Change (Log<tspan font-size="5" dy="1.4">2</tspan><tspan dy="-1.4">)</tspan></text>
<text transform="translate(307.4,285.8) rotate(-90)" font-size="7.4" text-anchor="middle" fill="#222" stroke="#222" stroke-width="0.1">Significance (− Log<tspan font-size="5" dy="1.4">10</tspan><tspan dy="-1.4">)</tspan></text>
<text x="515.8" y="278.7" font-size="4.9" text-anchor="start" fill="#222" stroke="#222" stroke-width="0.1" >Change</text>
<circle cx="518.3" cy="284.6" r="1.35" fill="#bcbcbc"/>
<text x="523.7" y="286.0" font-size="4.0" text-anchor="start" fill="#222" stroke="#222" stroke-width="0.06" >Unchanged</text>
<circle cx="518.3" cy="289.95000000000005" r="1.35" fill="#e41a1c"/>
<text x="523.7" y="291.35" font-size="4.0" text-anchor="start" fill="#222" stroke="#222" stroke-width="0.06" >Increased</text>
<circle cx="518.3" cy="295.3" r="1.35" fill="#2f4aa8"/>
<text x="523.7" y="296.7" font-size="4.0" text-anchor="start" fill="#222" stroke="#222" stroke-width="0.06" >Decreased</text>
</svg></body></html>
